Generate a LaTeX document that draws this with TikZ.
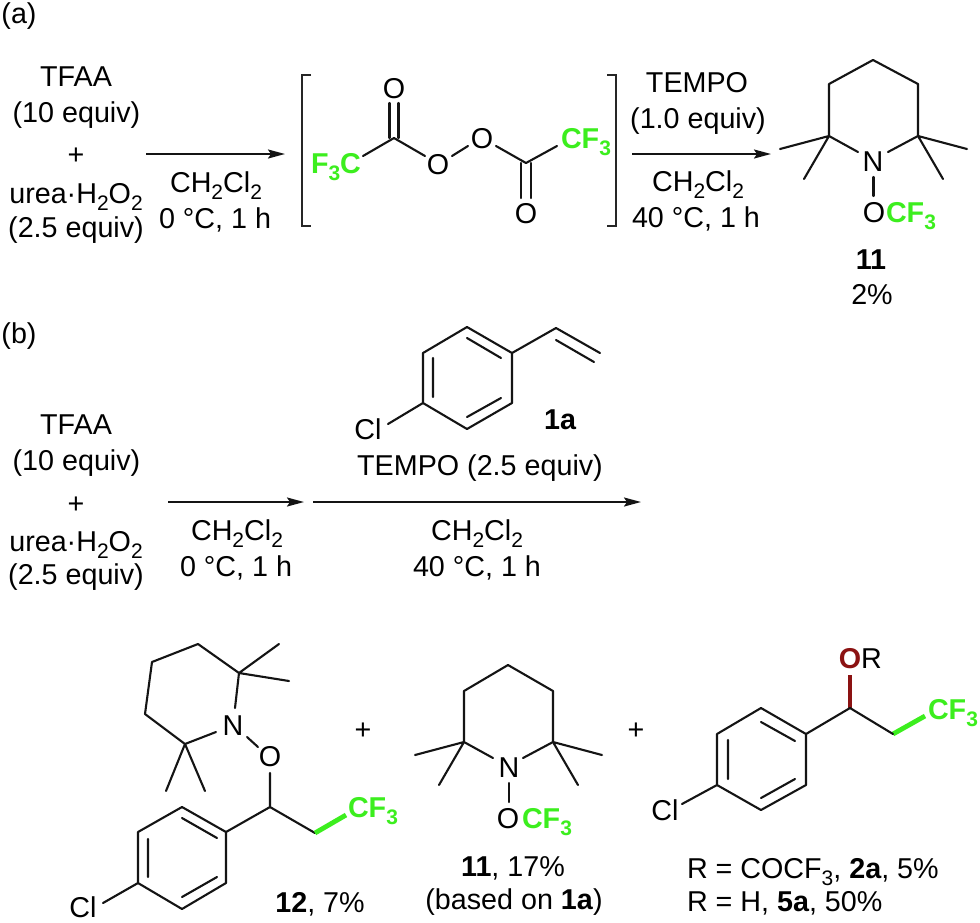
\documentclass[tikz,border=0pt]{standalone}
\usepackage{fontspec}
\setmainfont{Liberation Sans}
\usetikzlibrary{arrows.meta}
\definecolor{cfgreen}{HTML}{3CEE1E}
\definecolor{odred}{HTML}{8B1212}
\newcommand{\sbs}[1]{\raisebox{-0.26em}{\fontsize{21}{21}\selectfont #1}}
\tikzset{
  lbl/.style={inner sep=0pt,outer sep=0pt,anchor=base,font=\fontsize{28.7}{30}\selectfont},
  lblw/.style={lbl,anchor=base west},
  cfthree/.style={lblw,text=cfgreen,font=\fontsize{28.7}{30}\selectfont\bfseries},
  bond/.style={line width=2.1pt,line cap=round,line join=round,draw=black!92},
  gbond/.style={line width=4.8pt,line cap=butt,draw=cfgreen},
  rbond/.style={line width=4.8pt,line cap=butt,draw=odred},
  rxn/.style={line width=2.1pt,draw=black!92,-{Stealth[length=17pt,width=9pt,inset=3pt]}}
}
\begin{document}
\begin{tikzpicture}[x=1pt,y=-1pt]
\useasboundingbox[fill=white] (0,0) rectangle (980,922);

% ---------- panel labels
\node[lbl] (pa) at (19,23) {(a)};
\node[lbl] (pb) at (19,343) {(b)};

% ---------- (a) reagents
\node[lbl] (a1) at (76,86) {TFAA};
\node[lbl] (a2) at (76.5,122) {(10 equiv)};
\node[lbl] (a3) at (76,164) {+};
\node[lbl] (a4) at (76,203) {urea·H\sbs{2}O\sbs{2}};
\node[lbl] (a5) at (76,237) {(2.5 equiv)};
\coordinate (ar1s) at (146,154); \coordinate (ar1e) at (285,154);
\draw[rxn] (ar1s) -- (ar1e);
\node[lbl] (a6) at (216,192) {CH\sbs{2}Cl\sbs{2}};
\node[lbl] (a7) at (215,228) {0 °C, 1 h};

% ---------- peroxide
\foreach \n/\x/\y in {bl1/311/75,bl2/302/75,bl3/302/226,bl4/311/226,
  br1/607/75,br2/616/75,br3/616/226,br4/607/226,
  c1/394/138,c1a/389.5/138,c1b/398.5/138,o1a/389.5/103,o1b/398.5/103,
  f1/363/156,ob1/425/156,ob2/452/156,ob3/468/146,ob4/496/146,
  c2/526/163,c2a/521/163,c2b/531/163,o2a/521/198,o2b/531/198,f2/557/146}
  \coordinate (\n) at (\x,\y);
\draw[line width=1.8pt,draw=black!85] (bl1) -- (bl2) -- (bl3) -- (bl4);
\draw[line width=1.8pt,draw=black!85] (br1) -- (br2) -- (br3) -- (br4);
\draw[bond] (o1a) -- (c1a) (o1b) -- (c1b);
\draw[bond] (f1) -- (c1) -- (ob1);
\draw[bond] (ob2) -- (ob3);
\draw[bond] (ob4) -- (c2) -- (f2);
\draw[bond] (c2a) -- (o2a) (c2b) -- (o2b);
\node[lbl] (ox1) at (394,98) {O};
\node[lbl] (ox2) at (438,174) {O};
\node[lbl] (ox3) at (482,148) {O};
\node[lbl] (ox4) at (526,223) {O};
\node[cfthree] (ftc) at (311,173) {F\sbs{3}C};
\node[cfthree] (cft) at (561,148) {CF\sbs{3}};

% ---------- arrow 2
\coordinate (ar2s) at (632,154); \coordinate (ar2e) at (771,154);
\draw[rxn] (ar2s) -- (ar2e);
\node[lbl] (a8) at (697,92) {TEMPO};
\node[lbl] (a9) at (698,128) {(1.0 equiv)};
\node[lbl] (a10) at (698,191) {CH\sbs{2}Cl\sbs{2}};
\node[lbl] (a11) at (696,227) {40 °C, 1 h};

% ---------- 11 in (a)
\foreach \n/\x/\y in {t1/873/60,t2/829/84,t3/829/136,t4/918/84,t5/918/136,
  t6/858/152,t7/888/152,m1/780/149,m2/804/179,m3/967/149,m4/943/179,
  t8/873.5/177,t9/873.5/196}
  \coordinate (\n) at (\x,\y);
\draw[bond] (t6) -- (t3) -- (t2) -- (t1) -- (t4) -- (t5) -- (t7);
\draw[bond] (m1) -- (t3) -- (m2);
\draw[bond] (m3) -- (t5) -- (m4);
\draw[bond] (t8) -- (t9);
\node[lbl] (n1) at (873,171) {N};
\node[lbl] (o1) at (874,222) {O};
\node[cfthree] (cf1) at (886,222) {CF\sbs{3}};
\node[lbl,font=\fontsize{28.7}{30}\selectfont\bfseries] (n11) at (871,269) {11};
\node[lbl] (y1) at (872,304) {2\%};

% ---------- (b) reagents
\node[lbl] (b1) at (76,434) {TFAA};
\node[lbl] (b2) at (76.5,470) {(10 equiv)};
\node[lbl] (b3) at (76,513) {+};
\node[lbl] (b4) at (76,551) {urea·H\sbs{2}O\sbs{2}};
\node[lbl] (b5) at (76,584) {(2.5 equiv)};
\coordinate (ar3s) at (168,502); \coordinate (ar3e) at (304,502);
\coordinate (ar4s) at (313,502); \coordinate (ar4e) at (641,502);
\draw[rxn] (ar3s) -- (ar3e);
\draw[rxn] (ar4s) -- (ar4e);
\node[lbl] (b6) at (237,540) {CH\sbs{2}Cl\sbs{2}};
\node[lbl] (b7) at (236,576) {0 °C, 1 h};
\node[lbl] (b8) at (477,540) {CH\sbs{2}Cl\sbs{2}};
\node[lbl] (b9) at (477,576) {40 °C, 1 h};
\node[lbl] (b10) at (480,475) {TEMPO (2.5 equiv)};

% ---------- 1a
\foreach \n/\x/\y in {s1/423/403,s2/467/429,s3/512/403,s4/512/353,s5/467/327,s6/423/353,
  scl/388/424,i1/433/358,i2/433/397,i3/467/417,i4/501/398,i5/467/338,i6/501/358,
  v1/556/328,v2/600/353,v3/556/340,v4/594/362}
  \coordinate (\n) at (\x,\y);
\draw[bond] (s1) -- (s2) -- (s3) -- (s4) -- (s5) -- (s6) -- cycle;
\draw[bond] (s1) -- (scl);
\draw[bond] (i1) -- (i2) (i3) -- (i4) (i5) -- (i6);
\draw[bond] (s4) -- (v1) -- (v2) (v3) -- (v4);
\node[lbl] (cl1) at (368,439) {Cl};
\node[lbl,font=\fontsize{28.7}{30}\selectfont\bfseries] (n1a) at (560,429) {1a};

% ---------- 12
\foreach \n/\x/\y in {p1/198/644,p2/152/662,p3/145/714,p4/185/744,p5/239/673,
  p6/235/708,p7/216/732,q1/279/644,q2/289/681,q3/166/791,q4/205/791,
  r1/247/737,r2/258/747,r3/270/773,r4/270/807,r5/315/833,r6/346/815,
  u1/226/832,u2/226/883,u3/182/909,u4/138/883,u5/138/832,u6/182/807,
  w1/182/818,w2/217/838,w3/148/839,w4/148/877,w5/182/897,w6/217/877,ucl/103/903}
  \coordinate (\n) at (\x,\y);
\draw[bond] (p7) -- (p4) -- (p3) -- (p2) -- (p1) -- (p5) -- (p6);
\draw[bond] (q1) -- (p5) -- (q2);
\draw[bond] (q3) -- (p4) -- (q4);
\draw[bond] (r1) -- (r2);
\draw[bond] (r3) -- (r4) -- (r5);
\draw[bond] (r4) -- (u1);
\draw[gbond] (r5) -- (r6);
\draw[bond] (u1) -- (u2) -- (u3) -- (u4) -- (u5) -- (u6) -- cycle;
\draw[bond] (w1) -- (w2) (w3) -- (w4) (w5) -- (w6) (u4) -- (ucl);
\node[lbl] (n2) at (233,735) {N};
\node[lbl] (o2) at (270,766) {O};
\node[cfthree] (cf2) at (348,817) {CF\sbs{3}};
\node[lbl] (cl2) at (83,917) {Cl};
\node[lbl] (n12) at (320,912) {\textbf{12}, 7\%};
\node[lbl] (pl1) at (363,739) {+};

% ---------- 11 in (b)
\foreach \n/\x/\y in {h1/508/665,h2/553/691,h3/553/742,h4/464/691,h5/464/742,
  h6/523/758,h7/493/758,k1/602/755,k2/578/785,k3/415/755,k4/439/785,
  h8/509/783,h9/509/802}
  \coordinate (\n) at (\x,\y);
\draw[bond] (h7) -- (h5) -- (h4) -- (h1) -- (h2) -- (h3) -- (h6);
\draw[bond] (k1) -- (h3) -- (k2);
\draw[bond] (k3) -- (h5) -- (k4);
\draw[bond] (h8) -- (h9);
\node[lbl] (n3) at (509,777) {N};
\node[lbl] (o3) at (508,828) {O};
\node[cfthree] (cf3) at (522,828) {CF\sbs{3}};
\node[lbl] (n113) at (513,876) {\textbf{11}, 17\%};
\node[lbl] (n114) at (514,909) {(based on \textbf{1a})};
\node[lbl] (pl2) at (636,739) {+};

% ---------- 2a/5a
\foreach \n/\x/\y in {d1/850/675,d2/850/708,d3/893/734,d4/925/716,
  e1/806/734,e2/806/785,e3/761/810,e4/717/785,e5/717/734,e6/761/708,
  g1/761/722,g2/795/741,g3/728/740,g4/728/779,g5/761/798,g6/795/779,ecl/682/804}
  \coordinate (\n) at (\x,\y);
\draw[rbond] (d1) -- (d2);
\draw[gbond] (d3) -- (d4);
\draw[bond] (e1) -- (d2) -- (d3);
\draw[bond] (e1) -- (e2) -- (e3) -- (e4) -- (e5) -- (e6) -- cycle;
\draw[bond] (g1) -- (g2) (g3) -- (g4) (g5) -- (g6) (e4) -- (ecl);
\node[lbl,text=odred] (o4) at (850,668) {\textbf{O}};
\node[lblw] (rr) at (861,668) {R};
\node[cfthree] (cf4) at (928,719) {CF\sbs{3}};
\node[lbl] (cl4) at (665,820) {Cl};
\node[lblw] (l1) at (687,878) {R = COCF\sbs{3}, \textbf{2a}, 5\%};
\node[lblw] (l2) at (687,911) {R = H, \textbf{5a}, 50\%};
\end{tikzpicture}
\end{document}
